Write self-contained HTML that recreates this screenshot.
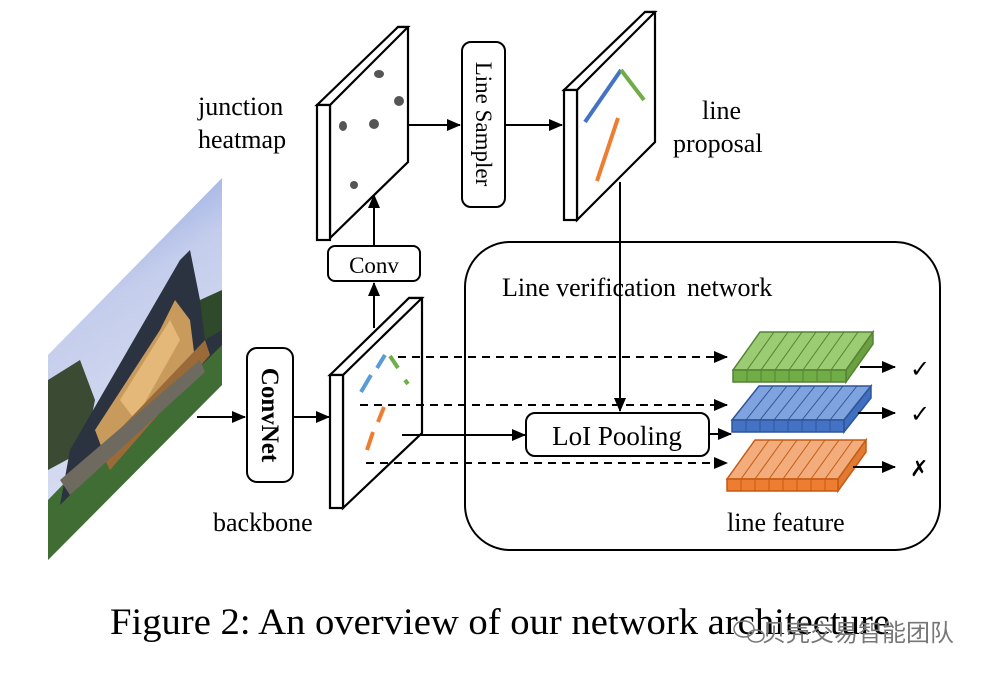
<!DOCTYPE html>
<html><head><meta charset="utf-8"><style>
html,body{margin:0;padding:0;background:#fff;}
svg{display:block;}
text{font-family:"Liberation Serif",serif;fill:#000;}
</style></head><body>
<svg width="984" height="674" viewBox="0 0 984 674" xmlns="http://www.w3.org/2000/svg">
<defs>
<marker id="ah" markerWidth="14" markerHeight="12" refX="13" refY="6" orient="auto" markerUnits="userSpaceOnUse">
<path d="M0,0 L14,6 L0,12 z" fill="#000"/></marker>
<linearGradient id="sky" x1="0" y1="0" x2="0.3" y2="1">
<stop offset="0" stop-color="#6f8fd8"/><stop offset="0.4" stop-color="#c4cdec"/><stop offset="1" stop-color="#dfe4f3"/></linearGradient>
<clipPath id="pc"><polygon points="48,355 222,178 222,385 48,560"/></clipPath>
</defs>

<g clip-path="url(#pc)">
<rect x="40" y="170" width="190" height="400" fill="url(#sky)"/>
<polygon points="48,500 222,320 222,390 48,570" fill="#3f6d33"/>
<polygon points="48,380 80,360 95,400 85,450 48,470" fill="#3b4a32"/>
<polygon points="70,450 180,260 190,250 200,300 210,330 222,320 222,345 60,505" fill="#2b3240"/>
<polygon points="95,430 160,330 175,300 190,320 195,360 110,470" fill="#c89a5c"/>
<polygon points="120,400 170,320 180,340 135,420" fill="#e3b878"/>
<polygon points="100,450 205,340 210,355 110,470" fill="#9a6a38"/>
<polygon points="60,480 200,360 205,372 70,495" fill="#6f6a60"/>
<polygon points="200,300 222,290 222,330 205,340" fill="#2f4a2a"/>
</g>

<rect x="247" y="348" width="46" height="134" rx="10" fill="#fff" stroke="#000" stroke-width="2"/>
<text x="0" y="0" font-size="25" font-weight="bold" transform="translate(262,415) rotate(90)" text-anchor="middle">ConvNet</text>
<text x="213" y="531" font-size="26">backbone</text>

<line x1="197" y1="417" x2="245" y2="417" stroke="#000" stroke-width="2" marker-end="url(#ah)"/>
<line x1="293" y1="417" x2="329" y2="417" stroke="#000" stroke-width="2" marker-end="url(#ah)"/>

<g stroke="#000" stroke-width="2.2" fill="#fff">
<polygon points="343,375 409,298 422,298 422,433 343,508"/>
<polygon points="330,375 409,298 422,298 343,375"/>
<rect x="330" y="375" width="13" height="133"/>
</g>
<g stroke-width="4">
<line x1="390" y1="356" x2="398" y2="368" stroke="#70ad47"/>
<line x1="405" y1="380" x2="408" y2="384" stroke="#70ad47"/>
<line x1="385" y1="355" x2="377" y2="368" stroke="#5b9bd5"/>
<line x1="371" y1="375" x2="361" y2="392" stroke="#5b9bd5"/>
<line x1="384" y1="407" x2="378" y2="422" stroke="#ed7d31"/>
<line x1="373" y1="432" x2="367" y2="450" stroke="#ed7d31"/>
</g>

<line x1="374" y1="328" x2="374" y2="283" stroke="#000" stroke-width="2" marker-end="url(#ah)"/>
<rect x="328" y="246" width="92" height="35" rx="7" fill="#fff" stroke="#000" stroke-width="2"/>
<text x="374" y="273" font-size="23" text-anchor="middle">Conv</text>
<line x1="374" y1="246" x2="374" y2="195" stroke="#000" stroke-width="2" marker-end="url(#ah)"/>

<g stroke="#000" stroke-width="2.2" fill="#fff">
<polygon points="330,105 398,27 408,27 408,162 330,238"/>
<polygon points="317,105 398,27 408,27 330,105"/>
<rect x="317" y="105" width="13" height="135"/>
</g>
<g fill="#555">
<ellipse cx="379" cy="74" rx="5" ry="4"/><circle cx="399" cy="101" r="5"/>
<ellipse cx="343" cy="126" rx="4" ry="5"/><circle cx="374" cy="124" r="5"/><circle cx="354" cy="185" r="4"/>
</g>
<text x="198" y="115" font-size="26">junction</text>
<text x="198" y="148" font-size="26">heatmap</text>

<line x1="408" y1="125" x2="460" y2="125" stroke="#000" stroke-width="2" marker-end="url(#ah)"/>
<rect x="462" y="42" width="43" height="165" rx="9" fill="#fff" stroke="#000" stroke-width="2"/>
<text font-size="23" transform="translate(476,124) rotate(90)" text-anchor="middle">Line Sampler</text>
<line x1="505" y1="125" x2="562" y2="125" stroke="#000" stroke-width="2" marker-end="url(#ah)"/>

<g stroke="#000" stroke-width="2.2" fill="#fff">
<polygon points="577,90 645,12 655,12 655,142 577,220"/>
<polygon points="564,90 645,12 655,12 577,90"/>
<rect x="564" y="90" width="13" height="130"/>
</g>
<line x1="585" y1="122" x2="621" y2="70" stroke="#4472c4" stroke-width="4"/>
<line x1="621" y1="70" x2="644" y2="100" stroke="#70ad47" stroke-width="4"/>
<line x1="597" y1="181" x2="618" y2="118" stroke="#ed7d31" stroke-width="4"/>
<text x="702" y="119" font-size="26">line</text>
<text x="673" y="152" font-size="26">proposal</text>

<rect x="465" y="242" width="475" height="308" rx="45" fill="none" stroke="#000" stroke-width="2"/>
<text x="502" y="296" font-size="26">Line verification</text>
<text x="687" y="296" font-size="26">network</text>
<line x1="620" y1="182" x2="620" y2="411" stroke="#000" stroke-width="2" marker-end="url(#ah)"/>

<g stroke="#000" stroke-width="2" stroke-dasharray="8,6">
<line x1="398" y1="357" x2="727" y2="357" marker-end="url(#ah)"/>
<line x1="360" y1="405" x2="727" y2="405" marker-end="url(#ah)"/>
<line x1="366" y1="463" x2="727" y2="463" marker-end="url(#ah)"/>
</g>
<line x1="402" y1="435" x2="525" y2="435" stroke="#000" stroke-width="2" marker-end="url(#ah)"/>
<rect x="526" y="413" width="183" height="43" rx="9" fill="#fff" stroke="#000" stroke-width="2"/>
<text x="617" y="445" font-size="27" text-anchor="middle">LoI Pooling</text>
<line x1="709" y1="434" x2="731" y2="434" stroke="#000" stroke-width="2" marker-end="url(#ah)"/>

<g stroke-width="1.5">
<polygon points="733,370 760,332 873,332 846,370" fill="#9bcb72" stroke="#548235"/>
<polygon points="846,370 873,332 873,344 846,382" fill="#6aa040" stroke="#548235"/>
<rect x="733" y="370" width="113" height="12" fill="#70ad47" stroke="#548235"/>
<polygon points="732,420 759,386 871,386 844,420" fill="#7ea3df" stroke="#2f5597"/>
<polygon points="844,420 871,386 871,398 844,432" fill="#3f6fc0" stroke="#2f5597"/>
<rect x="732" y="420" width="112" height="12" fill="#4472c4" stroke="#2f5597"/>
<polygon points="727,479 755,440 866,440 838,479" fill="#f3ac7c" stroke="#c55a11"/>
<polygon points="838,479 866,440 866,452 838,491" fill="#e07a35" stroke="#c55a11"/>
<rect x="727" y="479" width="111" height="12" fill="#ed7d31" stroke="#c55a11"/>
</g>
<g stroke-width="1">
<path d="M747,370v12M761,370v12M775,370v12M789,370v12M803,370v12M817,370v12M831,370v12" stroke="#548235"/>
<path d="M746,420v12M760,420v12M774,420v12M788,420v12M802,420v12M816,420v12M830,420v12" stroke="#2f5597"/>
<path d="M741,479v12M755,479v12M769,479v12M783,479v12M797,479v12M811,479v12M825,479v12" stroke="#c55a11"/>
<path d="M747,370l27,-38M761,370l27,-38M775,370l27,-38M789,370l27,-38M803,370l27,-38M817,370l27,-38M831,370l27,-38" stroke="#548235"/>
<path d="M746,420l27,-34M760,420l27,-34M774,420l27,-34M788,420l27,-34M802,420l27,-34M816,420l27,-34M830,420l27,-34" stroke="#2f5597"/>
<path d="M741,479l28,-39M755,479l28,-39M769,479l28,-39M783,479l28,-39M797,479l28,-39M811,479l28,-39M825,479l28,-39" stroke="#c55a11"/>
</g>
<line x1="860" y1="367" x2="895" y2="367" stroke="#000" stroke-width="2" marker-end="url(#ah)"/>
<line x1="858" y1="413" x2="895" y2="413" stroke="#000" stroke-width="2" marker-end="url(#ah)"/>
<line x1="853" y1="467" x2="895" y2="467" stroke="#000" stroke-width="2" marker-end="url(#ah)"/>
<text x="910" y="377" font-size="24" font-family="DejaVu Sans">✓</text>
<text x="910" y="422" font-size="24" font-family="DejaVu Sans">✓</text>
<text x="910" y="476" font-size="22" font-family="DejaVu Sans">✗</text>
<text x="727" y="531" font-size="26">line feature</text>

<text x="110" y="634" font-size="37" textLength="780" lengthAdjust="spacingAndGlyphs">Figure 2:  An overview of our network architecture</text>
<g fill="none" stroke="#777" stroke-width="1.5"><ellipse cx="744" cy="629" rx="10" ry="8"/><ellipse cx="756" cy="636" rx="8" ry="6"/></g>
<text x="762" y="641" font-size="24" style="font-family:'Noto Sans CJK SC',sans-serif;fill:#777">贝壳交易智能团队</text>
</svg>
</body></html>
